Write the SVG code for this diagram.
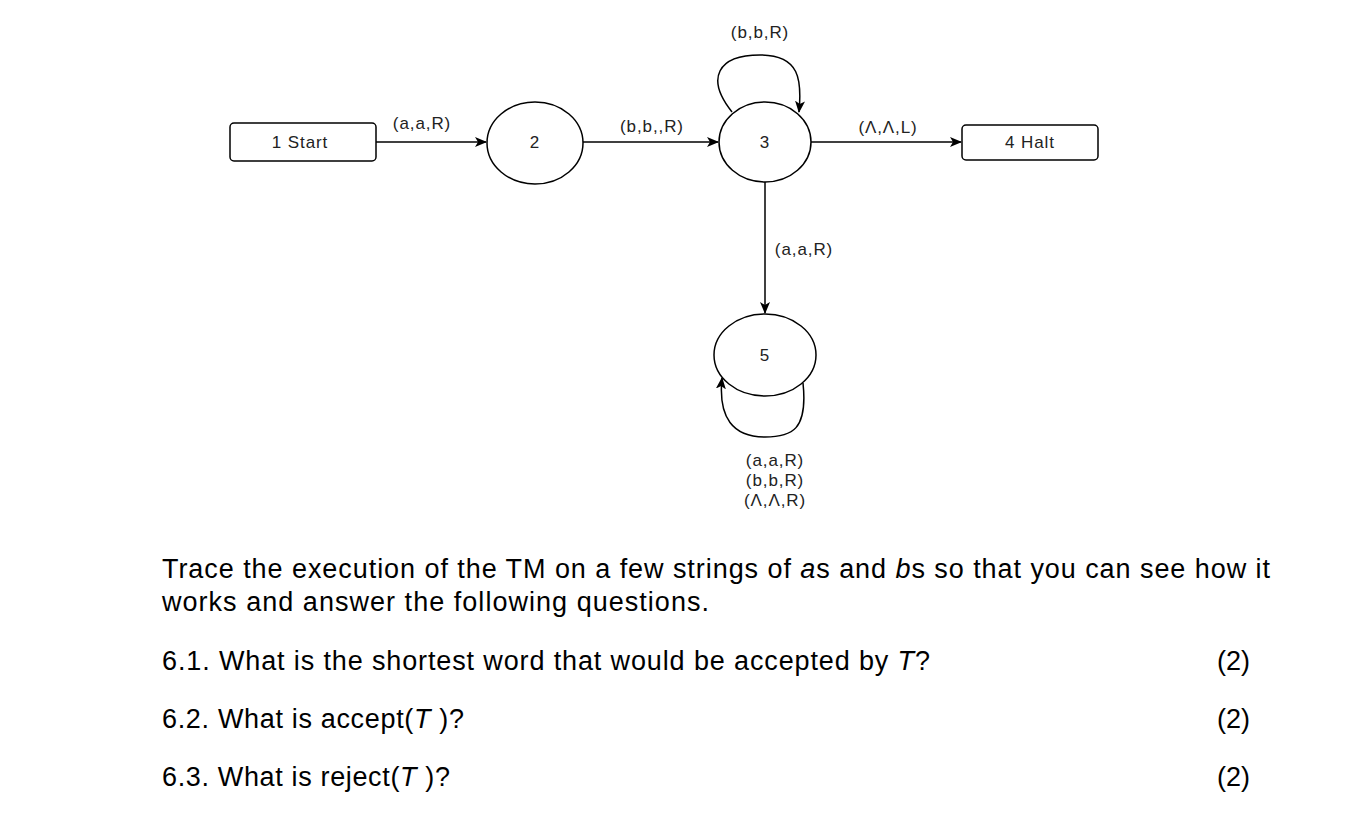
<svg xmlns="http://www.w3.org/2000/svg" width="1370" height="818" viewBox="0 0 1370 818">
<style>
.n{fill:#fff;stroke:#000;stroke-width:1.5}
.e{fill:none;stroke:#000;stroke-width:1.5}
.t{font-family:"Liberation Sans",Arial,sans-serif;font-size:17px;letter-spacing:0.9px;fill:#222;text-anchor:middle}
.q{font-family:"Liberation Sans",Arial,sans-serif;font-size:27px;fill:#000}
</style>
<defs><marker id="a" markerWidth="12" markerHeight="10" refX="11" refY="5" orient="auto" markerUnits="userSpaceOnUse"><path d="M0,0 L12,5 L0,10 L3,5 Z" fill="#000"/></marker></defs>
<rect width="1370" height="818" fill="#fff"/>
<g id="edges">
<line class="e" x1="376" y1="142" x2="486" y2="142" marker-end="url(#a)"/>
<line class="e" x1="583" y1="142" x2="718" y2="142" marker-end="url(#a)"/>
<line class="e" x1="811" y1="142" x2="961" y2="142" marker-end="url(#a)"/>
<line class="e" x1="765" y1="182" x2="765" y2="313" marker-end="url(#a)"/>
<path class="e" d="M732,112 C705,78 718,55 760,55 C800,55 802,80 799,112" marker-end="url(#a)"/>
<path class="e" d="M803,383 C808,430 792,437 765,437 C733,437 718,418 722,378" marker-end="url(#a)"/>
<text class="t" x="422" y="129">(a,a,R)</text>
<text class="t" x="652" y="132">(b,b,,R)</text>
<text class="t" x="760" y="38">(b,b,R)</text>
<text class="t" x="888" y="133">(Λ,Λ,L)</text>
<text class="t" x="804" y="255">(a,a,R)</text>
<text class="t" x="775" y="466">(a,a,R)</text>
<text class="t" x="775" y="486">(b,b,R)</text>
<text class="t" x="775" y="506">(Λ,Λ,R)</text>
</g>
<g id="n1"><rect class="n" x="230" y="123" width="146" height="38" rx="4"/><text class="t" x="300" y="148">1 Start</text></g>
<g id="n2"><ellipse class="n" cx="535" cy="143" rx="48" ry="41"/><text class="t" x="535" y="148">2</text></g>
<g id="n3"><ellipse class="n" cx="765" cy="142" rx="46" ry="40"/><text class="t" x="765" y="148">3</text></g>
<g id="n4"><rect class="n" x="962" y="125" width="136" height="35" rx="4"/><text class="t" x="1030" y="148">4 Halt</text></g>
<g id="n5"><ellipse class="n" cx="765" cy="355" rx="51" ry="41"/><text class="t" x="765" y="361">5</text></g>
<text class="q" x="162" y="578" textLength="1108" lengthAdjust="spacing">Trace the execution of the TM on a few strings of <tspan font-style="italic">a</tspan>s and <tspan font-style="italic">b</tspan>s so that you can see how it</text>
<text class="q" x="162" y="611" textLength="547" lengthAdjust="spacing">works and answer the following questions.</text>
<text class="q" x="162" y="670" textLength="768" lengthAdjust="spacing">6.1. What is the shortest word that would be accepted by <tspan font-style="italic">T</tspan>?</text>
<text class="q" x="162" y="728" textLength="302" lengthAdjust="spacing">6.2. What is accept(<tspan font-style="italic">T</tspan> )?</text>
<text class="q" x="162" y="786" textLength="288" lengthAdjust="spacing">6.3. What is reject(<tspan font-style="italic">T</tspan> )?</text>
<text class="q" x="1217" y="670">(2)</text>
<text class="q" x="1217" y="728">(2)</text>
<text class="q" x="1217" y="786">(2)</text>
</svg>
